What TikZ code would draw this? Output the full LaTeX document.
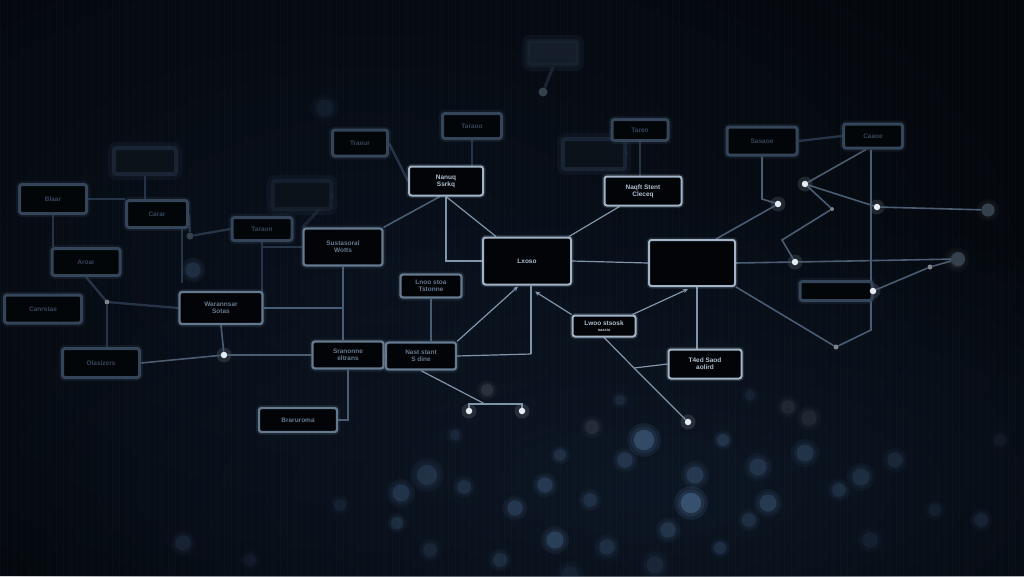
\documentclass[tikz,border=0pt]{standalone}
\usepackage{fontspec}
\setmainfont{Liberation Sans}
\usetikzlibrary{arrows.meta,fadings}
\definecolor{bg}{HTML}{04070B}
\definecolor{haze}{HTML}{0B1320}
\definecolor{hazeB}{HTML}{0E1827}
\definecolor{cA}{HTML}{A3B5C8}
\definecolor{cB}{HTML}{65798F}
\definecolor{cC}{HTML}{34455A}
\definecolor{cD}{HTML}{1F2C3D}
\definecolor{lA}{HTML}{8195AA}
\definecolor{lB}{HTML}{4A5C71}
\definecolor{lC}{HTML}{263447}
\definecolor{lD}{HTML}{192434}
\definecolor{bfill}{HTML}{020407}
\definecolor{dotc}{HTML}{E4EBF3}
\definecolor{bok}{HTML}{53779F}
\definecolor{bokg}{HTML}{5A5F68}
\tikzfading[name=fuzzy, inner color=transparent!0, outer color=transparent!100]
\pgfdeclarelayer{back}
\pgfdeclarelayer{lines}
\pgfsetlayers{back,lines,main}
\tikzset{
  base/.style={rounded corners=2.5pt, fill=bfill, inner sep=1pt, align=center,
    font=\fontsize{6.5}{7}\selectfont\bfseries},
  bxA/.style={base, draw=cA, text=cA!85!white, line width=2pt,
    preaction={draw=cA, draw opacity=.18, line width=5pt}},
  bxB/.style={base, draw=cB, text=cB, line width=2.3pt,
    preaction={draw=cB, draw opacity=.15, line width=6pt}},
  bxC/.style={base, draw=cC, text=cC, line width=3pt, fill=bfill!50!bg,
    preaction={draw=cC, draw opacity=.2, line width=7pt}},
  bxD/.style={base, draw=cD, text=cD, line width=4pt, fill=cD!30!bg, draw opacity=.7,
    preaction={draw=cD, draw opacity=.25, line width=12pt}},
  lnA/.style={draw=lA, line width=1.2pt},
  lnB/.style={draw=lB, line width=1.6pt},
  lnC/.style={draw=lC, line width=2.3pt},
  lnD/.style={draw=lD, line width=3pt},
  arr/.style={lnA, -{Stealth[length=5pt,width=4.5pt]}},
  dt/.style={circle, fill=dotc, inner sep=0pt, minimum size=6.5pt},
  dtB/.style={circle, fill=dotc!55!bg, inner sep=0pt, minimum size=5pt},
  blob/.style={circle, fill=cB!50!bg, inner sep=0pt, minimum size=#1},
}
\begin{document}
\begin{tikzpicture}[x=1pt,y=-1pt]
\useasboundingbox (0,0) rectangle (1024,576);
\begin{pgfonlayer}{back}
\begin{scope}
\clip (0,0) rectangle (1024,576);
\fill[bg] (0,0) rectangle (1024,576);
\fill[haze, path fading=fuzzy, opacity=.85] (380,270) ellipse (760 and 460);
\fill[hazeB, path fading=fuzzy, opacity=.85] (650,490) ellipse (700 and 300);
\foreach \x in {0,7,...,1024} \draw[white, opacity=.015, line width=.6pt] (\x,0) -- (\x,576);
\foreach \x/\y/\r/\o/\c in {
  644/440/12/.4/bok, 691/503/12/.45/bok, 555/540/10/.3/bok, 592/427/8/.22/bokg,
  545/485/9/.25/bok, 401/493/10/.22/bok, 427/475/12/.2/bok, 515/508/9/.25/bok,
  768/503/10/.26/bok, 788/407/8/.18/bokg, 809/418/9/.18/bokg, 805/453/10/.22/bok,
  758/467/10/.22/bok, 695/475/10/.25/bok, 625/460/9/.22/bok, 861/477/10/.18/bok,
  839/490/8/.18/bok, 723/440/7/.22/bok, 981/520/8/.13/bok, 397/523/7/.18/bok,
  487/390/7/.28/bokg, 668/530/9/.22/bok, 590/500/8/.18/bok, 749/520/8/.18/bok,
  895/460/9/.14/bok, 464/487/8/.18/bok, 607/547/9/.18/bok, 500/560/8/.18/bok,
  183/543/9/.13/bok, 430/550/8/.13/bok, 655/565/10/.13/bok, 720/548/7/.18/bok,
  560/455/7/.18/bok, 935/510/7/.1/bok, 870/540/9/.1/bok, 340/505/7/.1/bok,
  455/435/6/.13/bok, 620/400/6/.13/bok, 750/395/6/.1/bok, 570/575/10/.1/bok,
  325/108/10/.1/bok, 193/270/9/.2/bok, 957/260/9/.2/bokg,
  988/210/8/.18/bokg, 1000/440/7/.08/bok, 250/560/7/.08/bok}{
  \pgfmathsetmacro{\oa}{\o*0.35}
  \fill[\c, opacity=\oa] (\x,\y) circle (\r*1.4);
  \fill[\c, opacity=\oa] (\x,\y) circle (\r*1.12);
  \fill[\c, opacity=\o] (\x,\y) circle (\r*0.85);
}
\end{scope}
\end{pgfonlayer}

% ---- nodes: dim, far ----
\node[bxD, minimum width=62pt, minimum height=26pt] (n13) at (145,161) {};
\node[bxD, minimum width=62pt, minimum height=30pt] (n21) at (594,154) {};
\node[bxD, minimum width=50pt, minimum height=24pt, draw opacity=.35, fill=cD!60!bg] (n22) at (553,53) {};
\node[bxD, minimum width=58pt, minimum height=28pt, draw opacity=.45] (n23) at (302,195) {};
\node[bxC, minimum width=67pt, minimum height=29pt] (n14) at (53,199) {Blaar};
\node[bxC, minimum width=68pt, minimum height=27pt] (n15) at (86,262) {Aroar};
\node[bxC, minimum width=61pt, minimum height=27pt] (n16) at (157,214) {Carar};
\node[bxC, minimum width=60pt, minimum height=23pt] (n17) at (262,229) {Taraon};
\node[bxC, minimum width=77pt, minimum height=28pt] (n12) at (43,309) {Canrstae};
\node[bxC, minimum width=77pt, minimum height=29pt] (n11) at (101,363) {Olasizers};
\node[bxC, minimum width=55pt, minimum height=26pt] (n18) at (360,143) {Traeur};
\node[bxC, minimum width=59pt, minimum height=25pt] (n19) at (472,126) {Taraoo};
\node[bxC, minimum width=56pt, minimum height=21pt] (n20) at (640,130) {Tareo};
\node[bxC, minimum width=70pt, minimum height=28pt] (n24) at (762,141) {Sasaoe};
\node[bxC, minimum width=59pt, minimum height=24pt] (n25) at (873,136) {Caaoe};
\node[bxC, minimum width=72pt, minimum height=19pt] (n26) at (836,291) {};
% ---- nodes: middle distance ----
\node[bxB, minimum width=83pt, minimum height=32pt] (n9) at (221,308) {Warannsar\\Sotas};
\node[bxB, minimum width=79pt, minimum height=37pt] (n8) at (343,247) {Sustasoral\\Wotts};
\node[bxB, minimum width=71pt, minimum height=27pt] (n7) at (348,355) {Sranonne\\eltrans};
\node[bxB, minimum width=78pt, minimum height=24pt] (n10) at (298,420) {Braruroma};
\node[bxB, minimum width=61pt, minimum height=23pt] (n5) at (431,286) {Lnoo stoa\\Tstonne};
\node[bxB, minimum width=70pt, minimum height=27pt] (n6) at (421,356) {Nast stant\\S dine};
% ---- nodes: in focus ----
\node[bxA, minimum width=88pt, minimum height=47pt] (m1) at (527,261) {Lxoso};
\node[bxA, minimum width=86pt, minimum height=46pt] (m2) at (692,263) {};
\node[bxA, minimum width=74pt, minimum height=29pt] (n1) at (446,181) {Nanuq\\Ssrkq};
\node[bxA, minimum width=77pt, minimum height=29pt] (n2) at (643,191) {Naqft Stent\\Cleceq};
\node[bxA, minimum width=63pt, minimum height=21pt] (n3) at (604,326) {Lwoo stsosk\\[-1.5pt]{\fontsize{4}{4}\selectfont oaasia}};
\node[bxA, minimum width=73pt, minimum height=29pt] (n4) at (705,364) {T4ed Saod\\aolird};
% ---- dots ----
\node[dt] (d1) at (805,184) {};
\node[dt] (d2) at (778,204) {};
\node[dt] (d3) at (877,207) {};
\node[dt] (d4) at (795,262) {};
\node[dt] (d5) at (873,291) {};
\node[dtB] (d6) at (836,347) {};
\node[dt] (d7) at (688,422) {};
\node[dt] (d8) at (469,411) {};
\node[dt] (d9) at (522,411) {};
\node[dt] (d10) at (224,355) {};
\node[dtB] (d11) at (107,302) {};
\node[dtB, minimum size=4pt] (e1) at (832,209) {};
\node[dtB, minimum size=5pt] (e2) at (930,267) {};
\node[blob=14pt] (e3) at (958,259) {};
\node[blob=13pt] (e4) at (988,210) {};
\node[blob=9pt] (e9) at (543,92) {};
\node[blob=7pt] (e6) at (190,236) {};
\coordinate (j1) at (634,368);
\coordinate (j2) at (531,354);
\coordinate (j3) at (485,404);
\coordinate (j4) at (762,199);
\coordinate (j5) at (782,240);
\coordinate (j6) at (871,330);
\coordinate (j7) at (182,226);
\coordinate (j8) at (182,283);

\begin{pgfonlayer}{back}
\foreach \p in {d1,d2,d3,d4,d5,d7,d8,d9,d10}
  \fill[dotc, opacity=.12] (\p) circle (7.5);
\end{pgfonlayer}

\begin{pgfonlayer}{lines}
% far lines
\draw[lnD] (n22.south) -- (e9);
\draw[lnD] (n23.east) -- (n8.north west);
\draw[lnD] (n21.east) -- (n20.west);
\draw[lnC] (n13.south) -- (n13.south |- n16.north);
\draw[lnC] (n14.east) -- (n14.east -| n16.west);
\draw[lnC] (n14.south) -- (n14.south |- n15.north);
\draw[lnC] (n15.south) -- (d11);
\draw[lnC] (d11) -- (n9.west);
\draw[lnC] (d11) -- (d11 |- n11.north);
\draw[lnC] (n16.east) -- (e6) -- (n17.west);
\draw[lnC] (j7) -- (j8);
\draw[lnC] (n17.south) -- (n17.south |- n9.east);
\draw[lnC] (n17.south |- n8.west) -- (n8.west);
\draw[lnC] (n18.east) -- (n1.west);
\draw[lnC] (n19.south) -- (n19.south |- n1.north);
\draw[lnC] (n20.south) -- (n20.south |- n2.north);
\draw[lnC] (n24.east) -- (n25.west);
% middle lines
\draw[lnB] ([xshift=-6pt]n1.south) -- (n8.north east);
\draw[lnB] (n5.south) -- (n5.south |- n6.north);
\draw[lnB] (n8.south) -- (n8.south |- n7.north);
\draw[lnB] (n7.east) -- (n6.west);
\draw[lnB] (n7.south) |- (n10.east);
\draw[lnB] (n9.south) -- (d10);
\draw[lnB] (n11.east) -- (d10) -- (n7.west);
\draw[lnB] (n9.east) -- (n8.south |- n9.east);
\draw[lnB] (m2.east) -- (d4) -- (e3);
\draw[lnB] ([xshift=-20pt]m2.north east) -- (d2);
\draw[lnB] (n24.south) -- (j4) -- (d2);
\draw[lnB] ([xshift=-7pt]n25.south) -- (d1);
\draw[lnB] ([xshift=-2pt]n25.south) -- (j6) -- (d6);
\draw[lnB] (m2.south east) -- (d6);
\draw[lnB] (d1) -- (e1) -- (j5) -- (d4);
\draw[lnB] (d1) -- (d3) -- (e4);
\draw[lnB] (d5) -- (e2) -- (e3);
% lines in focus
\draw[lnA] (m1.east) -- (m2.west);
\draw[lnA] ([xshift=-3pt]m1.north east) -- ([xshift=16pt]n2.south west);
\draw[lnA] (n1.south) -- ([xshift=14pt]m1.north west);
\draw[lnA] (n1.south) |- (m1.west);
\draw[arr] (n6.north east) -- ([xshift=36pt,yshift=-1pt]m1.south west);
\draw[arr] (n3.north west) -- ([xshift=53pt,yshift=-6pt]m1.south west);
\draw[arr] ([xshift=-4pt]n3.north east) -- ([xshift=40pt,yshift=-2pt]m2.south west);
\draw[lnA] ([xshift=5pt]m2.south) -- ([xshift=-8pt]n4.north);
\draw[lnA] (n3.south) -- (j1) -- (d7);
\draw[lnA] (j1) -- (n4.west);
\draw[lnA] ([xshift=4pt]m1.south) -- (j2);
\draw[lnA] (n6.east) -- (j2);
\draw[lnA] (n6.south) -- (j3);
\draw[lnA] (d8) |- (j3) -| (d9);
\end{pgfonlayer}
\end{tikzpicture}
\end{document}
